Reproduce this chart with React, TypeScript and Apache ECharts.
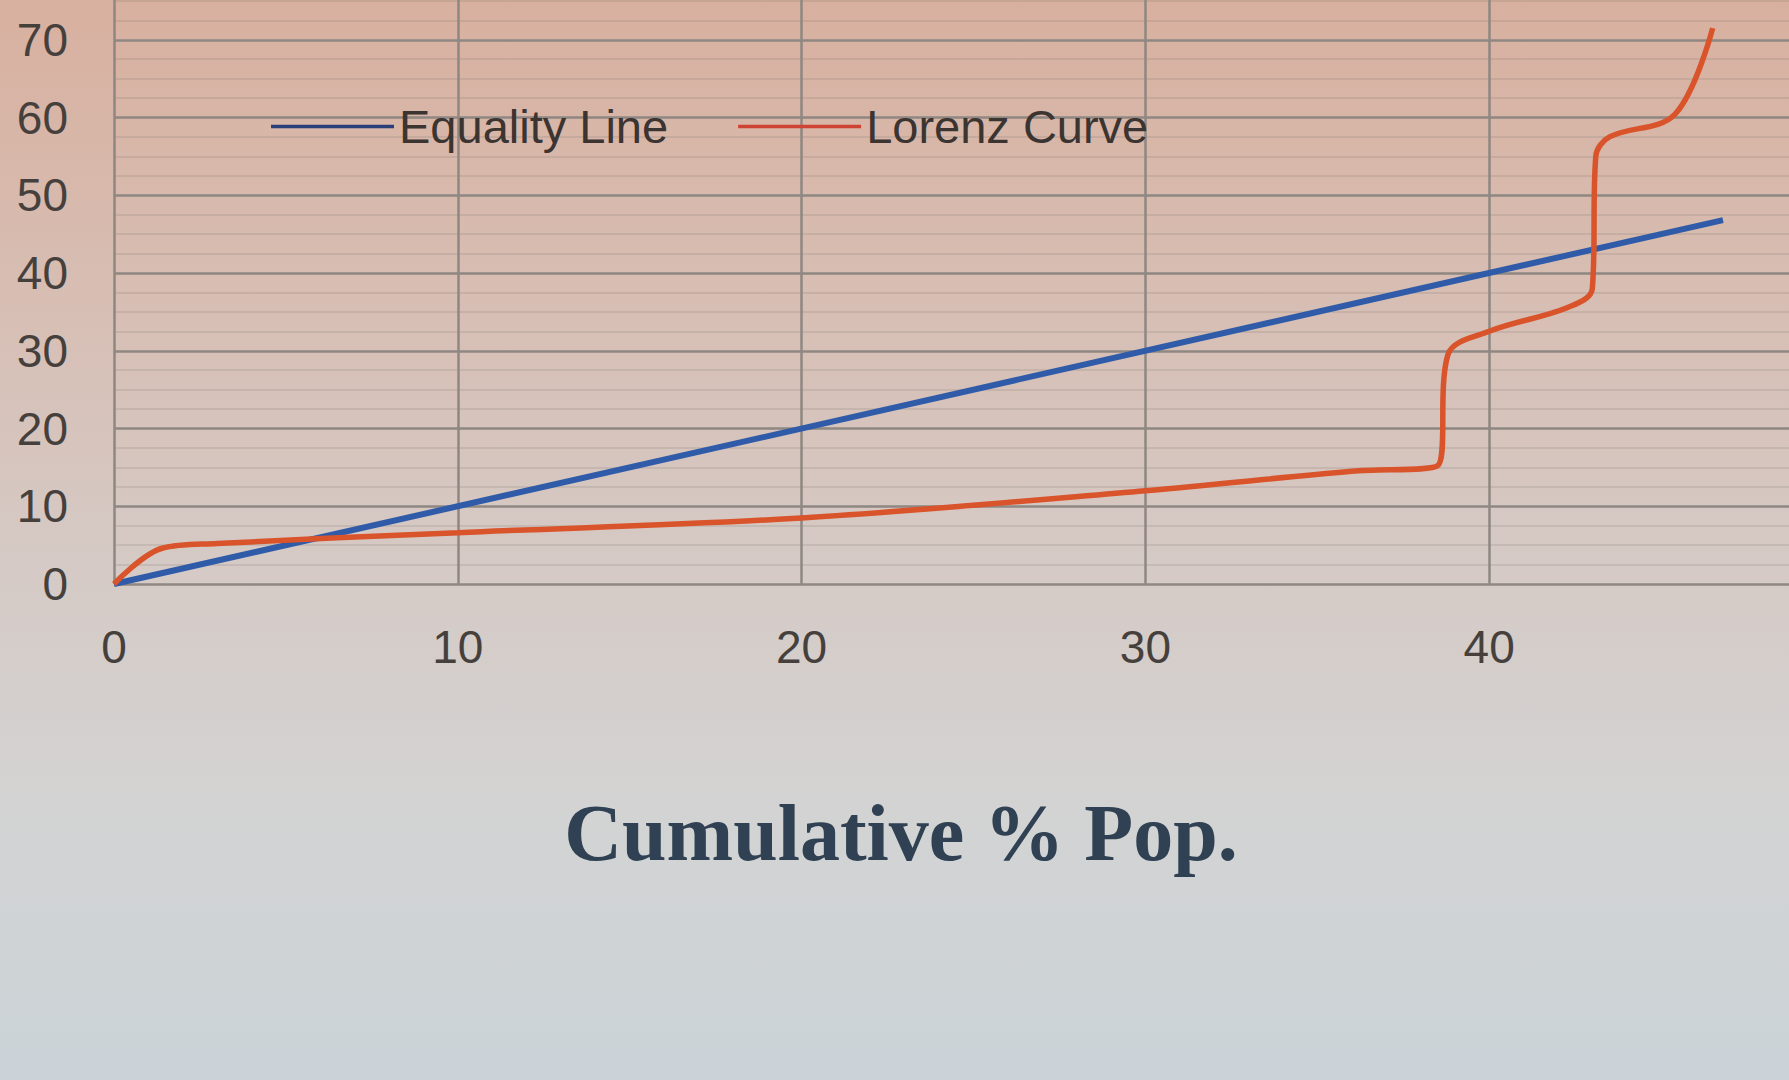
import React, { useEffect, useRef } from 'react'
import * as echarts from 'echarts'

// Cumulative % population (x) against cumulative % income (y)
const equalityX = [0, 46.8]
const equalityY = [0, 46.8]

const lorenzX = [0, 1.4, 3, 10, 20, 30, 36, 38.5, 38.8, 40, 42.3, 43.0, 43.1, 43.5, 45.4, 46.5]
const lorenzY = [0, 4.6, 5.2, 6.6, 8.5, 12, 14.5, 15.2, 29.5, 32.5, 35.6, 38, 55, 57.5, 60.4, 71.5]

const seriesNames = ['Equality Line', 'Lorenz Curve']
const seriesColors = ['#2f5ba8', '#d9532b']

const xShownTicks = [0, 10, 20, 30, 40]
const yShownTicks = [0, 10, 20, 30, 40, 50, 60, 70]

const axisTitle = 'Cumulative % Pop.'

const zip = (xs: number[], ys: number[]) => xs.map((x, i) => [x, ys[i]])

// the photo is cropped: the plot runs past the top (80) and the right edge (50),
// so the chart is drawn on a canvas a bit bigger than the page and shifted up
const OFFSET_TOP = 100
const CANVAS_W = 1900
const CANVAS_H = 1180

const App: React.FC = () => {
  const chartRef = useRef<HTMLDivElement | null>(null)

  useEffect(() => {
    if (!chartRef.current) return
    document.body.style.margin = '0'
    document.body.style.overflow = 'hidden'

    const chart = echarts.init(chartRef.current, undefined, { renderer: 'svg' })

    const labelFont = {
      fontFamily: 'Liberation Sans',
      fontSize: 46,
      color: '#46403d'
    }

    const option: echarts.EChartsOption = {
      animation: false,
      backgroundColor: 'transparent',
      title: {
        text: axisTitle,
        left: 901,
        top: 793 + OFFSET_TOP,
        padding: 0,
        textAlign: 'center',
        textStyle: {
          fontFamily: 'Liberation Serif',
          fontWeight: 'bold',
          fontSize: 80,
          color: '#2f4152'
        }
      },
      legend: {
        left: 266,
        top: 98 + OFFSET_TOP,
        itemWidth: 123,
        itemHeight: 14,
        itemGap: 70,
        icon: 'path://M0,6 L100,6 L100,9 L0,9 Z',
        data: [
          { name: seriesNames[0], itemStyle: { color: '#2b3f7a' } },
          { name: seriesNames[1], itemStyle: { color: '#cf4334' } }
        ],
        textStyle: {
          fontFamily: 'Liberation Sans',
          fontSize: 47,
          color: '#3b3431'
        }
      },
      grid: {
        left: 114,
        right: CANVAS_W - 1833,
        top: OFFSET_TOP - 38,
        bottom: CANVAS_H - (584 + OFFSET_TOP)
      },
      xAxis: {
        type: 'value',
        min: 0,
        max: 50,
        interval: 10,
        axisLine: { show: false },
        axisTick: { show: false },
        axisLabel: {
          ...labelFont,
          margin: 40,
          formatter: (v: number) => (xShownTicks.includes(v) ? String(v) : '')
        },
        splitLine: {
          show: true,
          lineStyle: { color: '#8e8782', width: 2.5 }
        }
      },
      yAxis: {
        type: 'value',
        min: 0,
        max: 80,
        interval: 10,
        axisLine: { show: false },
        axisTick: { show: false },
        axisLabel: {
          ...labelFont,
          margin: 46,
          formatter: (v: number) => (yShownTicks.includes(v) ? String(v) : '')
        },
        splitLine: {
          show: true,
          lineStyle: { color: '#8e8782', width: 2.5 }
        },
        minorTick: { show: false, splitNumber: 4 },
        minorSplitLine: {
          show: true,
          lineStyle: { color: 'rgba(120, 108, 104, 0.22)', width: 1.5 }
        }
      },
      series: [
        {
          name: seriesNames[0],
          type: 'line',
          data: zip(equalityX, equalityY),
          symbol: 'none',
          lineStyle: { color: seriesColors[0], width: 6 },
          itemStyle: { color: seriesColors[0] }
        },
        {
          name: seriesNames[1],
          type: 'line',
          data: zip(lorenzX, lorenzY),
          symbol: 'none',
          smooth: 0.35,
          lineStyle: { color: seriesColors[1], width: 5.5 },
          itemStyle: { color: seriesColors[1] }
        }
      ]
    }

    chart.setOption(option)

    return () => {
      chart.dispose()
    }
  }, [])

  return (
    <div
      style={{
        position: 'fixed',
        left: 0,
        top: 0,
        width: '1789px',
        height: '1080px',
        overflow: 'hidden',
        background:
          'linear-gradient(180deg, #d8b09f 0%, #d7bfb5 30%, #d5cbc7 55%, #d3d3d3 75%, #cbd3d8 100%)'
      }}
    >
      <div
        ref={chartRef}
        style={{
          position: 'absolute',
          left: 0,
          top: `${-OFFSET_TOP}px`,
          width: `${CANVAS_W}px`,
          height: `${CANVAS_H}px`
        }}
      />
    </div>
  )
}

export default App
